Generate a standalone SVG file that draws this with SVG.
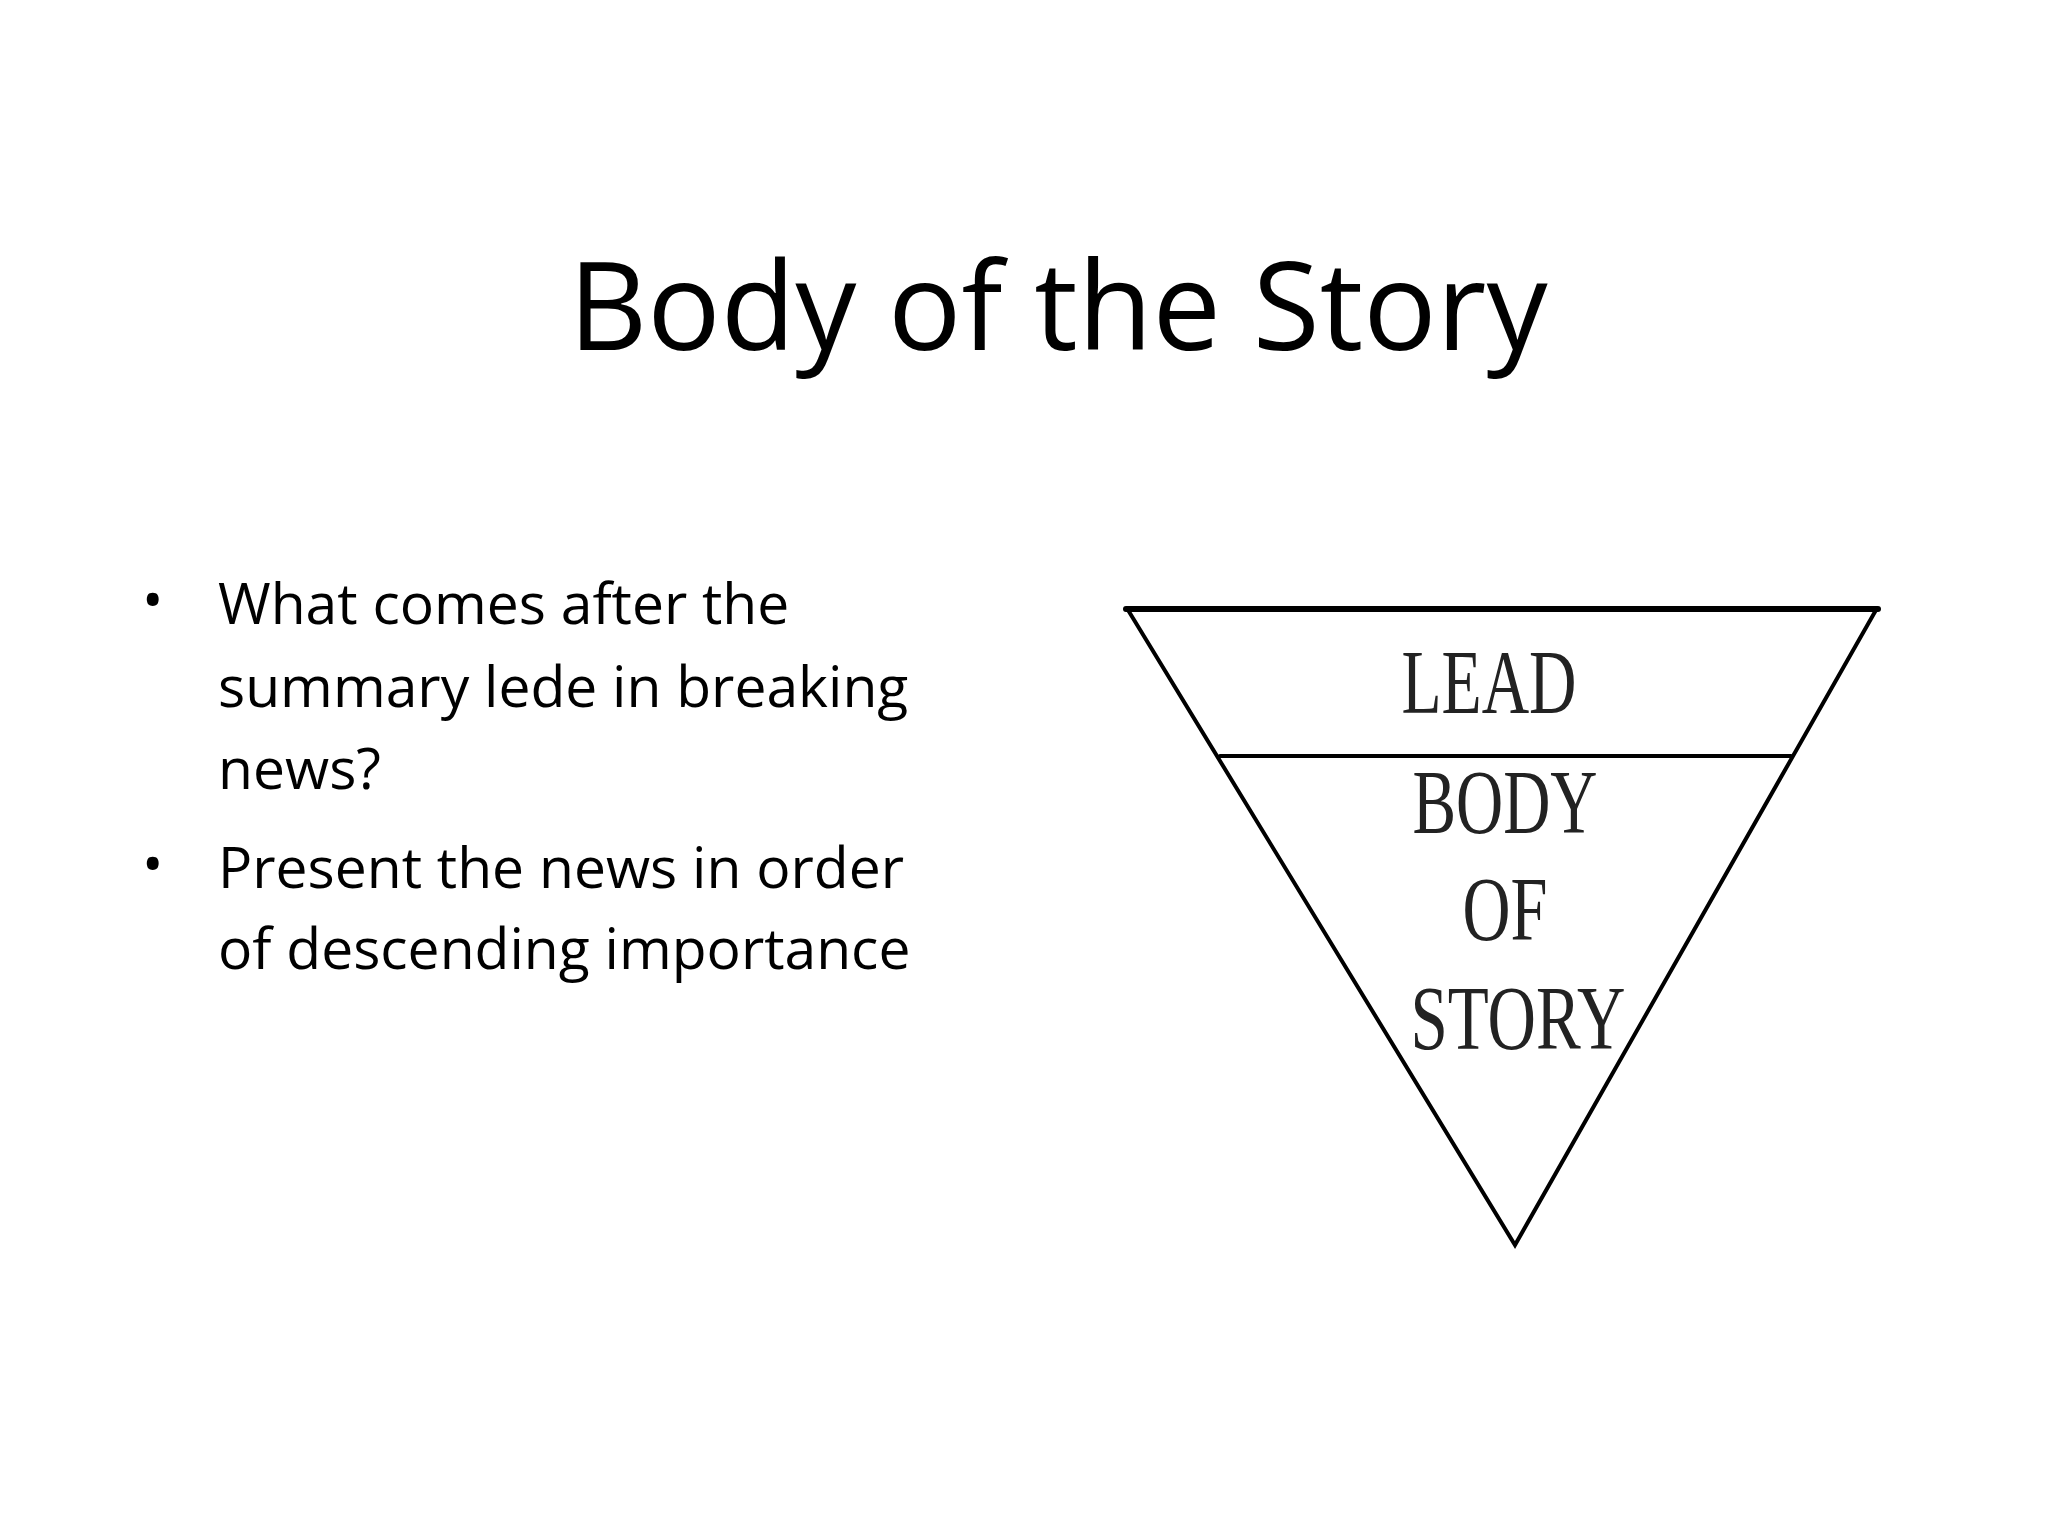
<svg xmlns="http://www.w3.org/2000/svg" width="2048" height="1536" viewBox="0 0 2048 1536">
<style>
.t{font-family:"Open Sans","Liberation Sans",sans-serif;fill:#000}
.b{font-size:57px}
.p{font-family:"Liberation Serif",serif;font-size:90px;fill:#222;text-anchor:middle}
.ln{stroke:#000;fill:none;stroke-linecap:round}
</style>
<rect width="2048" height="1536" fill="#fff"/>
<text class="t" x="1058" y="350" font-size="122" text-anchor="middle">Body of the Story</text>
<g id="bullets">
<text class="t b" x="142" y="620">•</text>
<text class="t b" x="218" y="624">What comes after the</text>
<text class="t b" x="218" y="707">summary lede in breaking</text>
<text class="t b" x="218" y="789">news?</text>
<text class="t b" x="142" y="884">•</text>
<text class="t b" x="218" y="888">Present the news in order</text>
<text class="t b" x="218" y="969">of descending importance</text>
</g>
<g id="pyramid">
<line class="ln" x1="1126" y1="609" x2="1878" y2="609" stroke-width="6"/>
<polyline class="ln" points="1128,610 1515,1245 1876,610" stroke-width="4"/>
<line class="ln" x1="1220" y1="756" x2="1791" y2="756" stroke-width="4"/>
<text class="p" x="1489" y="713" textLength="175" lengthAdjust="spacingAndGlyphs">LEAD</text>
<text class="p" x="1505" y="833" textLength="185" lengthAdjust="spacingAndGlyphs">BODY</text>
<text class="p" x="1505" y="940" textLength="85" lengthAdjust="spacingAndGlyphs">OF</text>
<text class="p" x="1518" y="1049" textLength="215" lengthAdjust="spacingAndGlyphs">STORY</text>
</g>
</svg>
